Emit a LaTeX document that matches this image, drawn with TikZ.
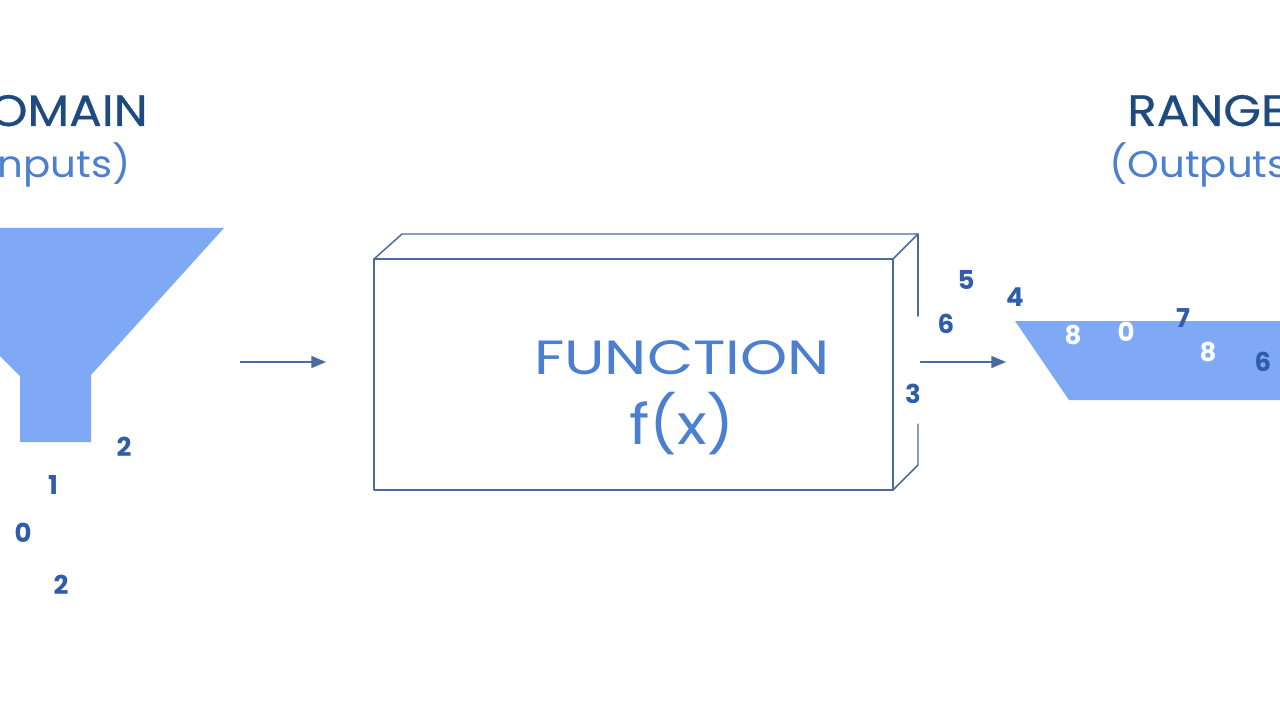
\documentclass[tikz,border=0pt]{standalone}
\usepackage{fontspec}
\setmainfont{Poppins}
\newfontfamily\headfont[FakeStretch=1.1,FakeBold=0.6]{Poppins}
\newfontfamily\subfont[FakeStretch=1.08]{Poppins}
\newfontfamily\fnfont[FakeStretch=1.25]{Poppins}
\newfontfamily\fxfont[FakeStretch=1.1]{Poppins}
\usetikzlibrary{arrows.meta}
\definecolor{navy}{HTML}{1F4A80}
\definecolor{midblue}{HTML}{4C7FCF}
\definecolor{fillblue}{HTML}{7FA8F5}
\definecolor{edgeblue}{HTML}{4A6C9C}
\definecolor{digitblue}{HTML}{2F5CAB}
\tikzset{
  x=0.75pt,y=-0.75pt,
  heading/.style={font=\headfont\fontsize{33pt}{33pt}\selectfont,text=navy,inner sep=0pt,anchor=base east},
  subheading/.style={font=\subfont\fontsize{28pt}{28pt}\selectfont,text=midblue,inner sep=0pt,anchor=base east},
  digit/.style={font=\fontsize{19.5pt}{19.5pt}\selectfont\bfseries,text=digitblue,inner sep=0pt},
  whitedigit/.style={digit,text=white},
  boxline/.style={draw=edgeblue,line width=1.1pt,line cap=round,line join=round},
  flow/.style={draw=edgeblue,line width=1.1pt,-{Triangle[length=11pt,width=9pt]}},
  mainlabel/.style={font=\fnfont\fontsize{36pt}{36pt}\selectfont,text=midblue,inner sep=0pt},
  fxlabel/.style={font=\fxfont\fontsize{42pt}{42pt}\selectfont,text=midblue,inner sep=0pt},
  basin/.style={fill=fillblue,draw=none}
}
\begin{document}
\begin{tikzpicture}
\useasboundingbox (0,0) rectangle (1280,720);
\clip (0,0) rectangle (1280,720);
\fill[white] (0,0) rectangle (1280,720);
% headings
\node[heading] (domain) at (148,126) {DOMAIN};
\node[subheading] (inputs) at (131,178) {(Inputs)};
\node[heading,anchor=base west] (range) at (1127,126) {RANGE};
\node[subheading,anchor=base west] (outputs) at (1109,178) {(Outputs)};
% funnel
\fill[basin] (-128,228) -- (224,228) -- (91,375) -- (91,442) -- (20,442) -- (20,376) -- cycle;
% tray
\fill[basin] (1015,321) -- (1290,321) -- (1290,400) -- (1069,400) -- cycle;
% box
\draw[boxline] (374,259) rectangle (893,490);
\draw[boxline] (374,259) -- (402,234) -- (918,234) -- (893,259);
\draw[boxline] (918,234) -- (918,316);
\draw[boxline] (918,424) -- (918,465) -- (893,490);
\node[mainlabel] (fn) at (682,358) {FUNCTION};
\node[fxlabel] (fx) at (682,424) {f(x)};
% arrows
\coordinate (a1) at (240,362);
\coordinate (a2) at (326,362);
\coordinate (b1) at (920,362);
\coordinate (b2) at (1006,362);
\draw[flow] (a1) -- (a2);
\draw[flow] (b1) -- (b2);
% digits
\node[digit] (d1) at (124,447) {2};
\node[digit] (d2) at (53,485) {1};
\node[digit] (d3) at (23,533) {0};
\node[digit] (d4) at (61,585) {2};
\node[digit] (d5) at (966,280) {5};
\node[digit] (d6) at (1015,297) {4};
\node[digit] (d7) at (946,324) {6};
\node[digit] (d8) at (913,394) {3};
\node[digit] (d9) at (1183,318) {7};
\node[digit] (d10) at (1263,362) {6};
\node[whitedigit] (d11) at (1073,335) {8};
\node[whitedigit] (d12) at (1126,332) {0};
\node[whitedigit] (d13) at (1208,352) {8};
\end{tikzpicture}
\end{document}
